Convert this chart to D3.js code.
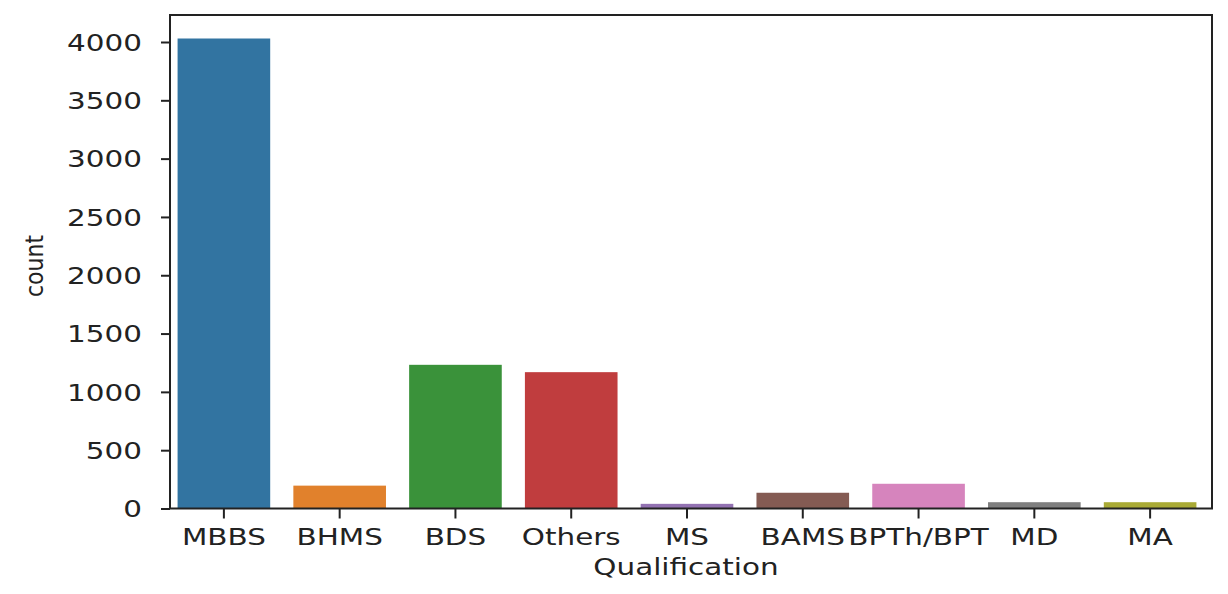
<!DOCTYPE html>
<html>
<head>
<meta charset="utf-8">
<script src="https://cdn.jsdelivr.net/npm/d3@7/dist/d3.min.js"></script>
<style>
  html, body { margin: 0; padding: 0; background: #fff; }
  svg { display: block; font-family: "DejaVu Sans", sans-serif; }
</style>
</head>
<body>
<svg id="chart" width="1228" height="594"></svg>
<script>
const categories = ["MBBS", "BHMS", "BDS", "Others", "MS", "BAMS", "BPTh/BPT", "MD", "MA"];
const counts = [4030, 196, 1232, 1169, 40, 135, 212, 54, 54];
const colors = ["#3274a1", "#e1812c", "#3a923a", "#c03d3e", "#9372b2", "#845b53", "#d684bd", "#7f7f7f", "#a9aa35"];
const yTicks = [0, 500, 1000, 1500, 2000, 2500, 3000, 3500, 4000];
const xLabel = "Qualification";
const yLabel = "count";

const plotLeft = 170, plotRight = 1212, plotTop = 15, plotBottom = 508.5;
const bandShift = -4; // categories sit slightly left in the reference
const sx = 1.28; // horizontal text stretch seen in the reference
const fs = 23;
const ink = "#222";

const svg = d3.select("#chart");

const x = d3.scaleBand().domain(categories).range([plotLeft + bandShift, plotRight + bandShift])
  .paddingInner(0.2).paddingOuter(0.1).align(0.5);
const y = d3.scaleLinear().domain([0, d3.max(counts) * 1.05]).range([plotBottom, plotTop]);

// bars
svg.append("g").selectAll("rect")
  .data(categories)
  .join("rect")
  .attr("x", d => x(d))
  .attr("width", x.bandwidth())
  .attr("y", (d, i) => y(counts[i]))
  .attr("height", (d, i) => y(0) - y(counts[i]))
  .attr("fill", (d, i) => colors[i]);

// y axis
const gy = svg.append("g")
  .attr("transform", `translate(${plotLeft},0)`)
  .call(d3.axisLeft(y).tickValues(yTicks).tickFormat(d3.format("d")).tickSize(9).tickPadding(0));
gy.select(".domain").remove();
gy.selectAll(".tick line").attr("stroke", ink).attr("stroke-width", 2);
gy.selectAll(".tick text")
  .attr("font-size", fs)
  .attr("font-family", "DejaVu Sans")
  .attr("fill", ink)
  .attr("x", -28 / sx)
  .attr("dy", "0.36em")
  .attr("transform", `scale(${sx},1)`);

// x axis
const gx = svg.append("g")
  .attr("transform", `translate(0,${plotBottom})`)
  .call(d3.axisBottom(x).tickSize(10).tickPadding(0));
gx.select(".domain").remove();
gx.selectAll(".tick line").attr("stroke", ink).attr("stroke-width", 2);
gx.selectAll(".tick text")
  .attr("font-size", fs)
  .attr("font-family", "DejaVu Sans")
  .attr("fill", ink)
  .attr("y", 36.5)
  .attr("dy", 0)
  .attr("transform", `scale(${sx},1)`);

// frame (spines)
svg.append("rect")
  .attr("x", plotLeft).attr("y", plotTop)
  .attr("width", plotRight - plotLeft).attr("height", plotBottom - plotTop)
  .attr("fill", "none").attr("stroke", ink).attr("stroke-width", 2);

// axis labels
svg.append("text")
  .attr("transform", `translate(${(plotLeft + plotRight) / 2 - 5},575) scale(${sx},1)`)
  .attr("text-anchor", "middle")
  .attr("font-size", fs)
  .attr("fill", ink)
  .text(xLabel);

svg.append("text")
  .attr("transform", `translate(43,266) scale(1.15,1) rotate(-90)`)
  .attr("text-anchor", "middle")
  .attr("font-size", 22)
  .attr("fill", ink)
  .text(yLabel);
</script>
</body>
</html>
